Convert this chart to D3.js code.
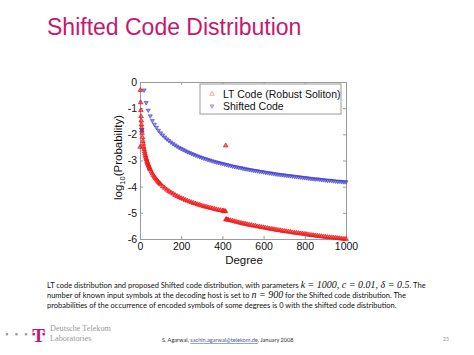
<!DOCTYPE html>
<html><head><meta charset="utf-8">
<script src="https://cdn.jsdelivr.net/npm/d3@7"></script>
<style>
html,body{margin:0;padding:0;background:#fff;}
svg{display:block;}
</style></head>
<body>
<svg id="c" width="474" height="355"></svg>
<script>
// ---- data ----
const xTicks = [0, 200, 400, 600, 800, 1000];
const yTicks = [0, -1, -2, -3, -4, -5, -6];

const ltDegree = [1,2,3,4,5,6,7,8,9,10,12,14,16,18,20,22,24,26,28,30,32,34,36,38,40,42,44,46,48,50,
  55,60,65,70,75,80,85,90,95,100,110,120,130,140,150,160,170,180,190,200,
  210,220,230,240,250,260,270,280,290,300,310,320,330,340,350,360,370,380,390,400,
  405,410,415,416,417,420,425,430,440,450,460,470,480,490,500,510,520,530,540,550,
  560,570,580,590,600,610,620,630,640,650,660,670,680,690,700,710,720,730,740,750,
  760,770,780,790,800,810,820,830,840,850,860,870,880,890,900,910,920,930,940,950,
  960,970,980,990,1000];
const ltLogProb = [-2.48,-0.31,-0.78,-1.08,-1.31,-1.48,-1.63,-1.75,-1.86,-1.95,-2.12,-2.26,-2.37,-2.48,-2.57,-2.65,-2.73,-2.80,-2.86,-2.92,-2.97,-3.03,-3.07,-3.12,-3.16,-3.20,-3.24,-3.28,-3.32,-3.35,
  -3.43,-3.50,-3.57,-3.63,-3.68,-3.73,-3.78,-3.83,-3.87,-3.91,-3.99,-4.05,-4.12,-4.17,-4.22,-4.27,-4.32,-4.36,-4.40,-4.44,
  -4.47,-4.51,-4.54,-4.57,-4.60,-4.63,-4.65,-4.68,-4.70,-4.73,-4.75,-4.77,-4.79,-4.81,-4.83,-4.85,-4.87,-4.89,-4.90,-4.92,
  -4.93,-4.94,-4.94,-2.43,-5.25,-5.25,-5.26,-5.27,-5.29,-5.31,-5.33,-5.35,-5.37,-5.39,-5.41,-5.42,-5.44,-5.46,-5.47,-5.49,
  -5.50,-5.52,-5.53,-5.55,-5.56,-5.58,-5.59,-5.61,-5.62,-5.63,-5.65,-5.66,-5.67,-5.69,-5.70,-5.71,-5.72,-5.73,-5.75,-5.76,
  -5.77,-5.78,-5.79,-5.80,-5.81,-5.82,-5.84,-5.85,-5.86,-5.87,-5.88,-5.89,-5.90,-5.91,-5.92,-5.93,-5.94,-5.94,-5.95,-5.96,
  -5.97,-5.98,-5.99,-6.00,-6.00];

const shiftedDegree = [10,20,30,40,50,60,70,80,90,100,110,120,130,140,150,160,170,180,190,200,
  210,220,230,240,250,260,270,280,290,300,310,320,330,340,350,360,370,380,390,400,
  410,420,430,440,450,460,470,480,490,500,510,520,530,540,550,560,570,580,590,600,
  610,620,630,640,650,660,670,680,690,700,710,720,730,740,750,760,770,780,790,800,
  810,820,830,840,850,860,870,880,890,900,910,920,930,940,950,960,970,980,990,1000];
const shiftedLogProb = [-1.83,-0.31,-0.79,-1.08,-1.30,-1.48,-1.62,-1.74,-1.85,-1.95,
  -2.03,-2.11,-2.18,-2.24,-2.30,-2.36,-2.41,-2.46,-2.51,-2.55,
  -2.59,-2.63,-2.67,-2.70,-2.74,-2.77,-2.80,-2.83,-2.86,-2.89,
  -2.92,-2.94,-2.97,-2.99,-3.02,-3.04,-3.06,-3.08,-3.10,-3.12,
  -3.14,-3.16,-3.18,-3.20,-3.22,-3.24,-3.25,-3.27,-3.28,-3.30,
  -3.32,-3.33,-3.35,-3.36,-3.38,-3.39,-3.40,-3.42,-3.43,-3.44,
  -3.46,-3.47,-3.48,-3.49,-3.50,-3.52,-3.53,-3.54,-3.55,-3.56,
  -3.57,-3.58,-3.59,-3.60,-3.61,-3.62,-3.63,-3.64,-3.65,-3.66,
  -3.67,-3.68,-3.69,-3.70,-3.71,-3.71,-3.72,-3.73,-3.74,-3.75,
  -3.76,-3.76,-3.77,-3.78,-3.79,-3.80,-3.80,-3.81,-3.82,-3.82];

const seriesNames = ["LT Code (Robust Soliton)", "Shifted Code"];

// ---- drawing ----
const svg = d3.select("#c");
const magenta = "#c8176c";
const redC = "#ee1c1c", blueC = "#3c3cd0";

svg.append("text").attr("x", 47).attr("y", 35)
  .attr("font-family", "Liberation Sans, Arial, sans-serif").attr("font-size", 23)
  .attr("fill", magenta).text("Shifted Code Distribution");

const L = 140, R = 346, T = 82, B = 239;
const x = d3.scaleLinear().domain([0, 1000]).range([L, R]);
const y = d3.scaleLinear().domain([-6, 0]).range([B, T]);

const axisFont = "Liberation Sans, Arial, sans-serif";
const axColor = "#9a9a9a";
const tickFs = 10.5;

function styleAxis(g) {
  g.select(".domain").attr("stroke", axColor).attr("stroke-width", 1);
  g.selectAll(".tick line").attr("stroke", axColor);
  g.selectAll(".tick text").attr("fill", "#111").attr("font-family", axisFont).attr("font-size", tickFs);
}
const fmt = d => String(d);

svg.append("g").attr("transform", `translate(0,${B})`)
  .call(d3.axisBottom(x).tickValues(xTicks).tickFormat(fmt).tickSizeInner(-3).tickSizeOuter(0).tickPadding(4))
  .call(styleAxis);
svg.append("g").attr("transform", `translate(0,${T})`)
  .call(d3.axisTop(x).tickValues(xTicks).tickFormat("").tickSizeInner(-3).tickSizeOuter(0))
  .call(styleAxis);
svg.append("g").attr("transform", `translate(${L},0)`)
  .call(d3.axisLeft(y).tickValues(yTicks).tickFormat(fmt).tickSizeInner(-3).tickSizeOuter(0).tickPadding(3))
  .call(styleAxis);
svg.append("g").attr("transform", `translate(${R},0)`)
  .call(d3.axisRight(y).tickValues(yTicks).tickFormat("").tickSizeInner(-3).tickSizeOuter(0))
  .call(styleAxis);

// axis titles
const yl = svg.append("text").attr("transform", `translate(122,${(T + B) / 2 - 3}) rotate(-90)`)
  .attr("text-anchor", "middle").attr("font-family", axisFont).attr("font-size", 11.5).attr("fill", "#111");
yl.append("tspan").text("log");
yl.append("tspan").attr("font-size", 7.5).attr("dy", 3).text("10");
yl.append("tspan").attr("dy", -3).text("(Probability)");

svg.append("text").attr("x", (L + R) / 2 + 1).attr("y", 264).attr("text-anchor", "middle")
  .attr("font-family", axisFont).attr("font-size", 11.5).attr("fill", "#111").text("Degree");

// series
const ltData = ltDegree.map((d, i) => ({ d, v: ltLogProb[i] }));
const shData = shiftedDegree.map((d, i) => ({ d, v: shiftedLogProb[i] }));

const triUp = d3.symbol(d3.symbolTriangle).size(9);
const triSmall = d3.symbol(d3.symbolTriangle).size(7);

svg.append("g").selectAll("path").data(ltData).join("path")
  .attr("d", triUp)
  .attr("transform", p => `translate(${x(p.d)},${y(p.v)})`)
  .attr("fill", "rgba(238,28,28,0.6)").attr("stroke", redC).attr("stroke-width", 0.8);

svg.append("g").selectAll("path").data(shData).join("path")
  .attr("d", triSmall)
  .attr("transform", p => `translate(${x(p.d)},${y(p.v)}) rotate(180)`)
  .attr("fill", "rgba(60,60,208,0.55)").attr("stroke", blueC).attr("stroke-width", 0.6);

// legend
const lg = svg.append("g");
lg.append("rect").attr("x", 200).attr("y", 84).attr("width", 141).attr("height", 30)
  .attr("fill", "#fff").attr("stroke", axColor).attr("stroke-width", 1);
lg.append("path").attr("d", triUp).attr("transform", "translate(212,94)")
  .attr("fill", "rgba(238,28,28,0.1)").attr("stroke", "#f0a0a0").attr("stroke-width", 0.8);
lg.append("path").attr("d", triSmall).attr("transform", "translate(212,106) rotate(180)")
  .attr("fill", "rgba(60,60,208,0.35)").attr("stroke", "#8a8ad8").attr("stroke-width", 0.6);
lg.append("text").attr("x", 223).attr("y", 98).attr("font-family", axisFont).attr("font-size", tickFs)
  .attr("fill", "#111").text(seriesNames[0]);
lg.append("text").attr("x", 223).attr("y", 110).attr("font-family", axisFont).attr("font-size", tickFs)
  .attr("fill", "#111").text(seriesNames[1]);

// caption
const capFont = "Lato, 'Open Sans', sans-serif";
const mathFont = "Liberation Serif, 'Times New Roman', serif";
function capLine(yy, parts) {
  const t = svg.append("text").attr("x", 47).attr("y", yy).attr("font-family", capFont)
    .attr("font-size", 7.5).attr("fill", "#111");
  parts.forEach(p => {
    const s = t.append("tspan").text(p.t);
    if (p.m) s.attr("font-family", mathFont).attr("font-style", "italic").attr("font-size", 10);
  });
}
capLine(288, [{ t: "LT code distribution and proposed Shifted code distribution, with parameters " },
  { t: "k = 1000, c = 0.01, δ = 0.5", m: 1 }, { t: ". The" }]);
capLine(298, [{ t: "number of known input symbols at the decoding host is set to " },
  { t: "n = 900", m: 1 }, { t: " for the Shifted code distribution. The" }]);
capLine(307.5, [{ t: "probabilities of the occurrence of encoded symbols of some degrees is 0 with the shifted code distribution." }]);

// footer
[7, 16.5, 26].forEach(cx => svg.append("rect").attr("x", cx - 1.2).attr("y", 333).attr("width", 2.4).attr("height", 2.4).attr("fill", "#a0a0a0"));
svg.append("text").attr("x", 38.5).attr("y", 342).attr("text-anchor", "middle")
  .attr("font-family", mathFont).attr("font-weight", "bold").attr("font-size", 19).attr("fill", magenta).text("T");
[32.5, 42.5].forEach(cx => svg.append("rect").attr("x", cx).attr("y", 333).attr("width", 2.4).attr("height", 2.4).attr("fill", magenta));
svg.append("text").attr("x", 50).attr("y", 331).attr("font-family", mathFont).attr("font-size", 8.2)
  .attr("fill", "#9a9a9a").text("Deutsche Telekom");
svg.append("text").attr("x", 50).attr("y", 341).attr("font-family", mathFont).attr("font-size", 8.2)
  .attr("fill", "#9a9a9a").text("Laboratories");

const ft = svg.append("text").attr("x", 162).attr("y", 342).attr("font-family", capFont)
  .attr("font-size", 5.6).attr("fill", "#333");
ft.append("tspan").text("S. Agarwal, ");
ft.append("tspan").attr("fill", "#4a5a9a").attr("text-decoration", "underline").text("sachin.agarwal@telekom.de");
ft.append("tspan").text(", January 2008");
svg.append("text").attr("x", 443).attr("y", 341).attr("font-family", capFont).attr("font-size", 5)
  .attr("fill", "#999").text("23");
</script>
</body></html>
